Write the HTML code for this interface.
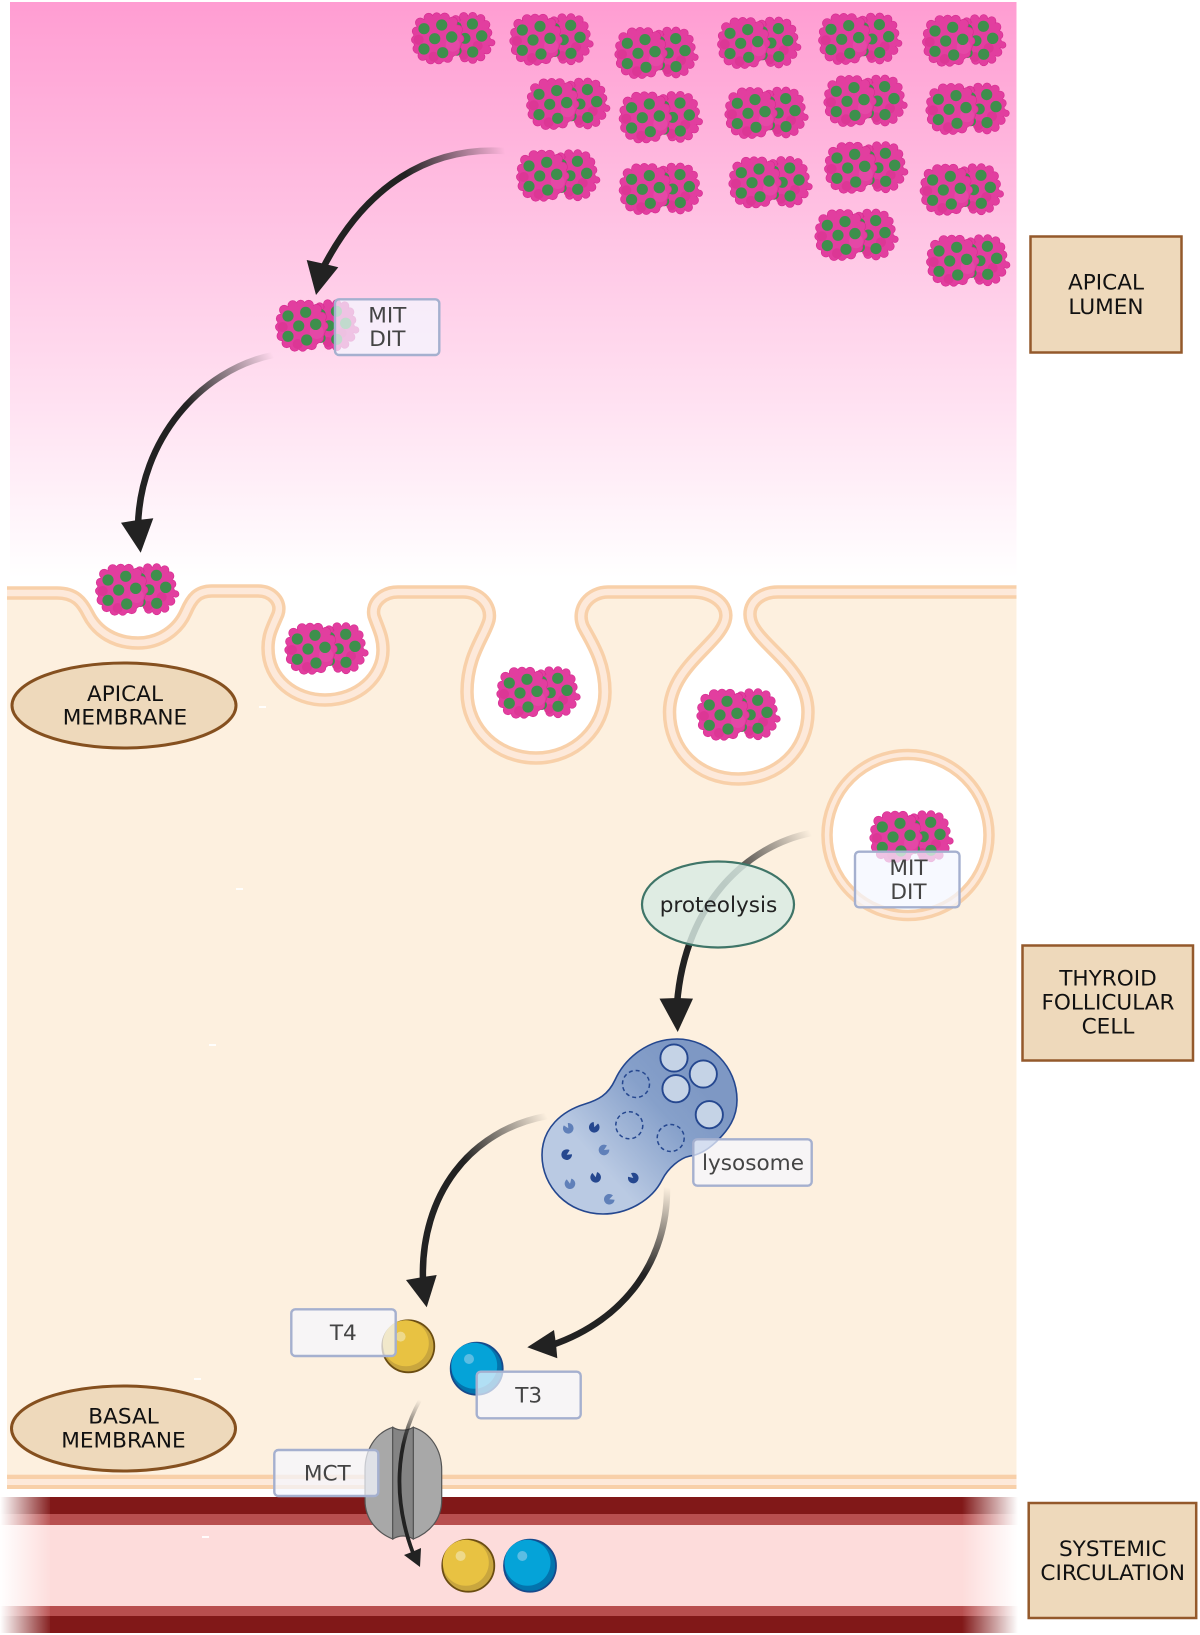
<!DOCTYPE html>
<html lang="en">
<head>
<meta charset="utf-8">
<title>Thyroid hormone synthesis</title>
<style>
html,body{margin:0;padding:0;background:#fff}
svg{display:block}
text{font-family:"DejaVu Sans","Liberation Sans",sans-serif;font-size:21.6px;text-anchor:middle}
.k{fill:#111}
.g{fill:#444}
.lab{fill:#f4f7ff;fill-opacity:.72;stroke:#a5b0cf;stroke-width:2.4}
.box{fill:#eed9bb;stroke:#94592b;stroke-width:2.5}
</style>
</head>
<body>
<svg xmlns="http://www.w3.org/2000/svg" width="1200" height="1635" viewBox="0 0 1200 1635">
<defs>
<linearGradient id="pink" x1="0" y1="2" x2="0" y2="578" gradientUnits="userSpaceOnUse">
<stop offset="0" stop-color="#ff9dd2"/><stop offset="1" stop-color="#ffffff"/>
</linearGradient>
<linearGradient id="fl" x1="0" y1="0" x2="50" y2="0" gradientUnits="userSpaceOnUse">
<stop offset="0" stop-color="#fff" stop-opacity="1"/><stop offset="1" stop-color="#fff" stop-opacity=".05"/>
</linearGradient>
<linearGradient id="fr" x1="962" y1="0" x2="1018" y2="0" gradientUnits="userSpaceOnUse">
<stop offset="0" stop-color="#fff" stop-opacity="0"/><stop offset="1" stop-color="#fff" stop-opacity="1"/>
</linearGradient>
<linearGradient id="a1" x1="505" y1="151" x2="405" y2="172" gradientUnits="userSpaceOnUse">
<stop offset="0" stop-color="#222" stop-opacity="0"/><stop offset="1" stop-color="#222"/>
</linearGradient>
<linearGradient id="a2" x1="273" y1="355" x2="185" y2="402" gradientUnits="userSpaceOnUse">
<stop offset="0" stop-color="#222" stop-opacity="0"/><stop offset="1" stop-color="#222"/>
</linearGradient>
<linearGradient id="a3" x1="811" y1="833" x2="725" y2="885" gradientUnits="userSpaceOnUse">
<stop offset="0" stop-color="#222" stop-opacity="0"/><stop offset="1" stop-color="#222"/>
</linearGradient>
<linearGradient id="a4" x1="547" y1="1116" x2="465" y2="1162" gradientUnits="userSpaceOnUse">
<stop offset="0" stop-color="#222" stop-opacity="0"/><stop offset="1" stop-color="#222"/>
</linearGradient>
<linearGradient id="a5" x1="667" y1="1187" x2="648" y2="1275" gradientUnits="userSpaceOnUse">
<stop offset="0" stop-color="#222" stop-opacity="0"/><stop offset="1" stop-color="#222"/>
</linearGradient>
<linearGradient id="a6" x1="420" y1="1400" x2="402" y2="1445" gradientUnits="userSpaceOnUse">
<stop offset="0" stop-color="#222" stop-opacity="0"/><stop offset="1" stop-color="#222"/>
</linearGradient>
<linearGradient id="lyso" x1="695" y1="1080" x2="600" y2="1165" gradientUnits="userSpaceOnUse">
<stop offset="0" stop-color="#7e98c4"/><stop offset=".35" stop-color="#86a0ca"/><stop offset="1" stop-color="#bacae3"/>
</linearGradient>
<clipPath id="cellclip"><rect x="7" y="560" width="1009.5" height="940"/></clipPath>
<path id="mem" fill="none" d="M0 593L57 593C75 593 82 602 88 614C97 632 115 643 138 643C160 643 178 630 186 612C192 598 198 591 212 591L258 591C272 591 282 602 278 614C272 628 268 635 268 648C268 680 295 700 325 700C358 700 383 677 383 650C383 636 378 628 374 616C371 602 384 592 398 592L463 592C480 592 492 606 489 620C485 636 467 655 467 692C467 730 498 758 536 758C575 758 605 728 605 692C605 660 590 640 583 626C576 608 590 592 608 592L692 592C712 592 730 604 725 621C718 645 669.5 668 669.5 712C669.5 750 698 779 738.5 779C778 779 808 750 808 712C808 668 758 645 751 621C746 604 760 592 778 592L1030 592"/>
<g id="b1">
<ellipse cx="60" cy="25" rx="18" ry="22"/>
<circle cx="44" cy="7" r="4"/><circle cx="52" cy="4" r="4"/><circle cx="61" cy="3.7" r="3.8"/><circle cx="69" cy="6" r="4"/><circle cx="74" cy="12" r="4"/><circle cx="76" cy="20" r="4"/><circle cx="76" cy="29" r="4"/><circle cx="80" cy="30" r="3"/><circle cx="75" cy="37" r="4"/><circle cx="69" cy="44" r="4"/><circle cx="61" cy="46.5" r="4"/><circle cx="53" cy="45" r="4"/>
</g>
<g id="b2">
<ellipse cx="26" cy="26" rx="24" ry="23"/>
<circle cx="48" cy="26" r="4"/><circle cx="46" cy="17" r="4.5"/><circle cx="41" cy="9" r="4.5"/><circle cx="33" cy="5" r="4.5"/><circle cx="25" cy="4.3" r="4"/><circle cx="17" cy="5.3" r="4.5"/><circle cx="8.5" cy="10" r="4.5"/><circle cx="4.8" cy="18.5" r="4"/><circle cx="3.8" cy="27" r="3.8"/><circle cx="6" cy="36" r="4.5"/><circle cx="11" cy="43" r="4.5"/><circle cx="19" cy="46.5" r="4.5"/><circle cx="27" cy="47" r="4"/><circle cx="36" cy="45" r="4.5"/><circle cx="43" cy="38" r="4.5"/>
</g>
<g id="tg">
<use href="#b1" fill="#d52c90" stroke="#d52c90" stroke-width="1.2"/>
<use href="#b1" fill="#e23e9f"/>
<circle cx="66" cy="33" r="5" fill="#dc3795"/><circle cx="52" cy="42" r="5" fill="#dc3795"/>
<g fill="#3e8f4c">
<circle cx="45" cy="14" r="5"/><circle cx="45" cy="38" r="5"/><circle cx="53.3" cy="25.7" r="5.5"/><circle cx="60.7" cy="11.3" r="5.6"/><circle cx="70" cy="23.3" r="5.7"/><circle cx="61" cy="39.3" r="5.6"/>
</g>
<use href="#b2" fill="#d52c90" stroke="#d52c90" stroke-width="1.2"/>
<use href="#b2" fill="#e23e9f"/>
<circle cx="7" cy="27" r="5" fill="#dc3795"/><circle cx="22" cy="44" r="5" fill="#dc3795"/><circle cx="41" cy="32" r="7" fill="#e448a6"/>
<g fill="#3e8f4c">
<circle cx="12.3" cy="16" r="5.6"/><circle cx="30" cy="12.3" r="5.6"/><circle cx="23" cy="26" r="5.6"/><circle cx="40" cy="24.3" r="5.7"/><circle cx="12.3" cy="36.3" r="5.6"/><circle cx="31" cy="40" r="5.6"/>
</g>
</g>
<path id="pac" d="M0 0L5.1-1.4A5.3 5.3 0 1 1 2.1-4.9Z"/>
<g id="yb">
<circle r="26" fill="#c9a63e" stroke="#6b4d12" stroke-width="1.8"/>
<circle cx="-2.5" cy="-3" r="23" fill="#e8c242"/>
<circle cx="-7.7" cy="-9.7" r="5" fill="#eed98b"/>
</g>
<g id="bb">
<circle r="26" fill="#0374ad" stroke="#174a8c" stroke-width="1.8"/>
<circle cx="-2.5" cy="-3" r="23" fill="#05a3d8"/>
<circle cx="-7.7" cy="-9.7" r="5" fill="#5cbde3"/>
</g>
</defs>

<rect width="1200" height="1635" fill="#fff"/>
<!-- lumen -->
<rect x="10" y="2" width="1006.5" height="580" fill="url(#pink)"/>

<!-- cell -->
<g clip-path="url(#cellclip)">
<path fill="#fdf0df" d="M0 593L57 593C75 593 82 602 88 614C97 632 115 643 138 643C160 643 178 630 186 612C192 598 198 591 212 591L258 591C272 591 282 602 278 614C272 628 268 635 268 648C268 680 295 700 325 700C358 700 383 677 383 650C383 636 378 628 374 616C371 602 384 592 398 592L463 592C480 592 492 606 489 620C485 636 467 655 467 692C467 730 498 758 536 758C575 758 605 728 605 692C605 660 590 640 583 626C576 608 590 592 608 592L692 592C712 592 730 604 725 621C718 645 669.5 668 669.5 712C669.5 750 698 779 738.5 779C778 779 808 750 808 712C808 668 758 645 751 621C746 604 760 592 778 592L1030 592L1030 1489L0 1489Z"/>
<use href="#mem" stroke="#f8d0a9" stroke-width="13.5"/>
<use href="#mem" stroke="#fde9da" stroke-width="6.5"/>
</g>

<!-- basal membrane -->
<rect x="7" y="1475" width="1009.5" height="14" fill="#fde9da"/>
<rect x="7" y="1474.7" width="1009.5" height="4.3" fill="#f8d0a9"/>
<rect x="7" y="1485" width="1009.5" height="4" fill="#f8d0a9"/>

<!-- vesicle -->
<ellipse cx="908" cy="835" rx="81" ry="80.5" fill="#fff" stroke="#f8d0a9" stroke-width="11.5"/>
<ellipse cx="908" cy="835" rx="81" ry="80.5" fill="none" stroke="#fde9da" stroke-width="4.5"/>

<!-- blood vessel -->
<rect x="0" y="1497" width="1018" height="17" fill="#811818"/>
<rect x="0" y="1514" width="1018" height="11" fill="#b84f4f"/>
<rect x="0" y="1525" width="1018" height="81" fill="#fddcdb"/>
<rect x="0" y="1606" width="1018" height="10" fill="#b84f4f"/>
<rect x="0" y="1616" width="1018" height="17" fill="#811818"/>
<rect x="0" y="1496" width="50" height="138" fill="url(#fl)"/>
<rect x="962" y="1496" width="56" height="138" fill="url(#fr)"/>

<!-- specks -->
<g fill="#fff" opacity=".9">
<rect x="259" y="706" width="7" height="2"/>
<rect x="236" y="888" width="7" height="2"/>
<rect x="209" y="1044" width="7" height="2"/>
<rect x="194" y="1378" width="7" height="2"/>
<rect x="202" y="1536" width="7" height="2"/>
</g>

<!-- thyroglobulin clusters -->
<use href="#tg" x="411.7" y="12.7"/>
<use href="#tg" x="510" y="14"/>
<use href="#tg" x="615" y="27.3"/>
<use href="#tg" x="717.7" y="17.3"/>
<use href="#tg" x="818.7" y="13.3"/>
<use href="#tg" x="922.7" y="15"/>
<use href="#tg" x="526.7" y="78.3"/>
<use href="#tg" x="619.3" y="91.7"/>
<use href="#tg" x="725" y="87.3"/>
<use href="#tg" x="824" y="75.3"/>
<use href="#tg" x="926" y="83.3"/>
<use href="#tg" x="516.7" y="150"/>
<use href="#tg" x="619.3" y="163.3"/>
<use href="#tg" x="729" y="156.7"/>
<use href="#tg" x="824.7" y="142"/>
<use href="#tg" x="920.3" y="164"/>
<use href="#tg" x="815" y="209.3"/>
<use href="#tg" x="926.7" y="235"/>
<use href="#tg" x="275.7" y="300"/>
<use href="#tg" x="95.7" y="564"/>
<use href="#tg" x="285" y="623"/>
<use href="#tg" x="497" y="667"/>
<use href="#tg" x="697" y="689"/>
<use href="#tg" x="870" y="811"/>

<!-- arrows -->
<g fill="none" stroke-width="6.5">
<path stroke="url(#a1)" d="M505 151C430 146 365 185 322 270"/>
<path stroke="url(#a2)" d="M273 355C200 370 140 440 138 526"/>
<path stroke="url(#a3)" d="M811 833C750 845 685 900 677 1004"/>
<path stroke="url(#a4)" d="M547 1116C470 1130 420 1195 423 1281"/>
<path stroke="url(#a5)" d="M667 1187C668 1260 625 1320 552 1345"/>
</g>
<g fill="#222">
<polygon points="316,295 306.7,260 325,264 338.3,267.3"/>
<polygon points="140.7,552.7 121,522.7 138,520 153.3,518.3"/>
<polygon points="677.7,1032 659.5,998.6 677,998 693,998.6"/>
<polygon points="426.7,1307.3 406,1280 423,1277 436.7,1275"/>
<polygon points="527.3,1347.3 554,1330 556,1344 557.3,1358.3"/>
</g>

<!-- proteolysis -->
<ellipse cx="718" cy="904.5" rx="76" ry="43" fill="#d9ebe3" fill-opacity=".84" stroke="#3f7568" stroke-width="2.2"/>
<text x="718.5" y="912" style="fill:#222">proteolysis</text>

<!-- lysosome -->
<path d="M677 1039C710 1039 737 1067 737 1100C737 1118 728 1130 718 1140C708 1150 698 1155 690 1156C680 1158 668 1168 662 1180C652 1200 628 1214 603 1214C568 1214 542 1187 542 1155C542 1128 562 1111 585 1104C598 1100 608 1095 615 1080C625 1058 648 1039 677 1039Z" fill="url(#lyso)" stroke="#24478f" stroke-width="1.6"/>
<g fill="#c5d3e6" stroke="#25478f" stroke-width="1.9">
<circle cx="674" cy="1058" r="13.6"/>
<circle cx="703.3" cy="1074" r="13.6"/>
<circle cx="676" cy="1088.7" r="13.6"/>
<circle cx="709.3" cy="1114.7" r="13.6"/>
</g>
<g fill="none" stroke="#25478f" stroke-width="1.5" stroke-dasharray="4 3">
<circle cx="636" cy="1084" r="13.5"/>
<circle cx="629.3" cy="1125.3" r="13.5"/>
<circle cx="670.7" cy="1138" r="13.5"/>
</g>
<g fill="#25478f">
<use href="#pac" transform="translate(594.3 1127.3) rotate(-30)"/>
<use href="#pac" transform="translate(566.7 1154.7) rotate(10)"/>
<use href="#pac" transform="translate(595.7 1177.3) rotate(-60)"/>
<use href="#pac" transform="translate(633.3 1178) rotate(-100)"/>
</g>
<g fill="#6080b9">
<use href="#pac" transform="translate(568.3 1128.3) rotate(-80)"/>
<use href="#pac" transform="translate(604 1150) rotate(10)"/>
<use href="#pac" transform="translate(570 1183.7) rotate(-60)"/>
<use href="#pac" transform="translate(609.3 1199.3) rotate(20)"/>
</g>

<!-- balls -->
<use href="#yb" x="408.3" y="1346.3"/>
<use href="#bb" x="476.7" y="1368.7"/>
<use href="#yb" x="468.3" y="1565.7"/>
<use href="#bb" x="530" y="1565.7"/>

<!-- MCT -->
<path d="M392.7 1427.3C375 1433 365 1450 365 1470L365 1500C365 1520 378 1533 392.7 1539Z" fill="#a8a8a8" stroke="#555" stroke-width="1.2"/>
<path d="M413.3 1427.3C431 1433 441.7 1450 441.7 1470L441.7 1500C441.7 1520 429 1533 413.3 1539Z" fill="#a8a8a8" stroke="#555" stroke-width="1.2"/>
<path d="M392.7 1427.3Q403 1433 413.3 1427.3L413.3 1539Q403 1533 392.7 1539Z" fill="#848484" stroke="#555" stroke-width="1.2"/>
<path d="M420 1400C395 1445 393 1500 413 1553" fill="none" stroke="url(#a6)" stroke-width="3.8"/>
<polygon points="420,1567 404,1555 412,1552 421,1548" fill="#222"/>

<!-- labels -->
<rect class="lab" x="335" y="299.3" width="104.3" height="55.7" rx="4"/>
<text x="387.3" y="322.6" class="g">MIT</text>
<text x="387.3" y="346.2" class="g">DIT</text>

<rect class="lab" x="855" y="851.7" width="104.5" height="55.6" rx="4"/>
<text x="908.5" y="874.8" class="g">MIT</text>
<text x="908.5" y="899" class="g">DIT</text>

<rect class="lab" x="693.3" y="1139.3" width="118.4" height="46.4" rx="4"/>
<text x="753" y="1170" class="g">lysosome</text>

<rect class="lab" x="291.3" y="1309.3" width="104.4" height="46.7" rx="4"/>
<text x="343.3" y="1340" class="g">T4</text>

<rect class="lab" x="476.7" y="1371.7" width="104" height="46.6" rx="4"/>
<text x="528.7" y="1402.5" class="g">T3</text>

<rect class="lab" x="274.3" y="1450" width="104" height="46" rx="4"/>
<text x="327.3" y="1480.5" class="g">MCT</text>

<!-- ellipses -->
<ellipse cx="124" cy="705.5" rx="112" ry="42.5" fill="#eed9bb" stroke="#85501f" stroke-width="3"/>
<text x="125" y="701" class="k">APICAL</text>
<text x="125" y="724.5" class="k">MEMBRANE</text>
<ellipse cx="123.5" cy="1428.5" rx="112" ry="42.5" fill="#eed9bb" stroke="#85501f" stroke-width="3"/>
<text x="123.5" y="1423.3" class="k">BASAL</text>
<text x="123.5" y="1447.3" class="k">MEMBRANE</text>

<!-- side boxes -->
<rect class="box" x="1030.5" y="236.5" width="151" height="116"/>
<text x="1106" y="289.5" class="k">APICAL</text>
<text x="1106" y="313.8" class="k">LUMEN</text>

<rect class="box" x="1022.5" y="945.5" width="170.5" height="115"/>
<text x="1108" y="985.5" class="k">THYROID</text>
<text x="1108" y="1009.5" class="k">FOLLICULAR</text>
<text x="1108" y="1033.5" class="k">CELL</text>

<rect class="box" x="1028.7" y="1503" width="167.5" height="115"/>
<text x="1112.7" y="1556" class="k">SYSTEMIC</text>
<text x="1112.7" y="1580" class="k">CIRCULATION</text>
</svg>
</body>
</html>
